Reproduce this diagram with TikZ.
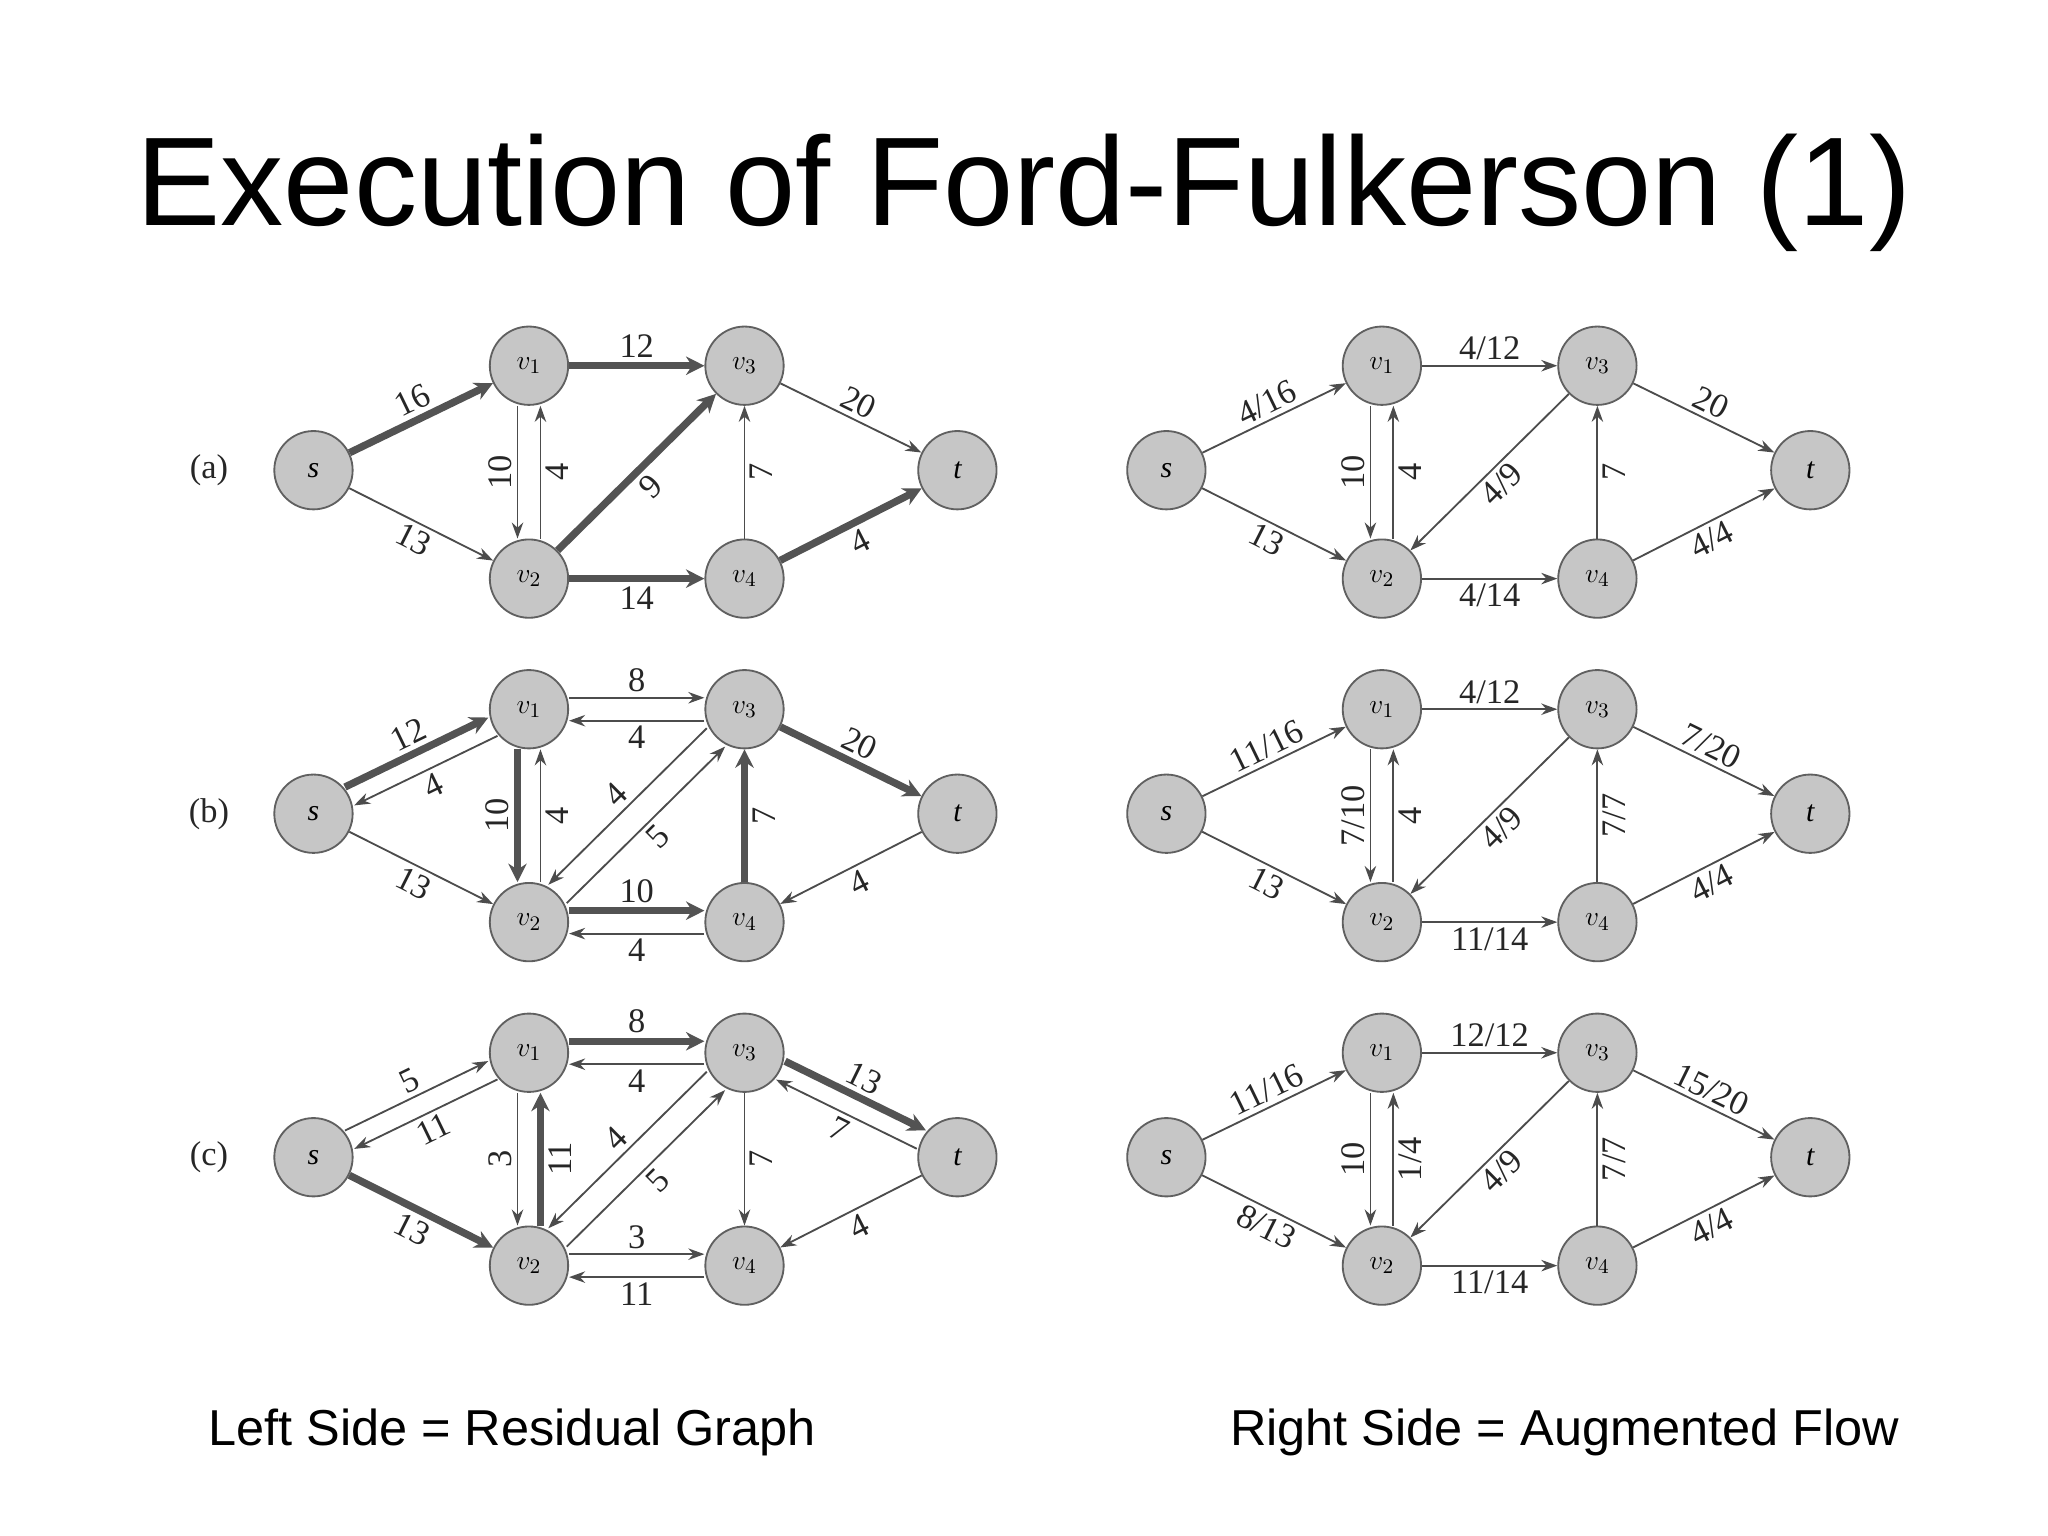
\documentclass[tikz,border=0pt]{standalone}
\usepackage{fontspec}
\setmainfont{Liberation Serif}
\newfontfamily\sansf{Liberation Sans}
\usetikzlibrary{arrows.meta}
\tikzset{
 gn/.style={circle,fill=gray!45,draw=gray!75!black,line width=0.8pt,minimum size=1.2cm,inner sep=0pt,font=\fontsize{13}{13}\selectfont\itshape},
 e/.style={draw=gray!60!black,line width=0.8pt,-{Stealth[length=7pt,width=5pt]}},
 hl/.style={draw=gray!65!black,line width=3.2pt,-{Stealth[length=8pt,width=8pt]}},
 lab/.style={font=\fontsize{15}{15}\selectfont,inner sep=2pt,text=gray!30!black},
}
\newcommand\gnodes[3]{%
 \node[gn] (#1s) at (#2+240,#3+360) {s};
 \node[gn] (#1a) at (#2+405,#3+280) {$v_1$};
 \node[gn] (#1c) at (#2+570,#3+280) {$v_3$};
 \node[gn] (#1t) at (#2+733,#3+360) {t};
 \node[gn] (#1b) at (#2+405,#3+443) {$v_2$};
 \node[gn] (#1d) at (#2+570,#3+443) {$v_4$};}
\begin{document}
\begin{tikzpicture}[x=0.02cm,y=-0.02cm]
\useasboundingbox (0,0) rectangle (1568,1176);
\node[font=\sansf\fontsize{55}{55}\selectfont] (title) at (784,148) {Execution of Ford-Fulkerson (1)};
\node[font=\sansf\fontsize{22}{22}\selectfont] (ll) at (392,1097) {Left Side = Residual Graph};
\node[font=\sansf\fontsize{22}{22}\selectfont] (rl) at (1198,1097) {Right Side = Augmented Flow};
\node[lab] (la) at (160,360) {(a)};
\node[lab] (lb) at (160,623) {(b)};
\node[lab] (lc) at (160,886) {(c)};
\gnodes{A}{0}{0}
\gnodes{B}{0}{263}
\gnodes{C}{0}{526}
\gnodes{D}{653}{0}
\gnodes{E}{653}{263}
\gnodes{F}{653}{526}
% (a) left
\draw[hl] (As) -- node[lab,above,sloped]{16} (Aa);
\draw[e] (As) -- node[lab,below,sloped]{13} (Ab);
\draw[e,transform canvas={xshift=-5pt}] (Aa) -- node[lab,rotate=90,anchor=south]{10} (Ab);
\draw[e,transform canvas={xshift=5pt}] (Ab) -- node[lab,rotate=90,anchor=north]{4} (Aa);
\draw[hl] (Aa) -- node[lab,above]{12} (Ac);
\draw[hl] (Ab) -- node[lab,sloped,anchor=north]{9} (Ac);
\draw[e] (Ac) -- node[lab,above,sloped]{20} (At);
\draw[e] (Ad) -- node[lab,rotate=90,anchor=north]{7} (Ac);
\draw[hl] (Ab) -- node[lab,below]{14} (Ad);
\draw[hl] (Ad) -- node[lab,below,sloped]{4} (At);
% (b) left
\draw[hl,transform canvas={shift={(-2pt,4pt)}}] (Bs) -- node[lab,above,sloped]{12} (Ba);
\draw[e,transform canvas={shift={(2pt,-4pt)}}] (Ba) -- node[lab,below,sloped]{4} (Bs);
\draw[e] (Bs) -- node[lab,below,sloped]{13} (Bb);
\draw[hl,transform canvas={xshift=-5pt}] (Ba) -- node[lab,rotate=90,anchor=south]{10} (Bb);
\draw[e,transform canvas={xshift=5pt}] (Bb) -- node[lab,rotate=90,anchor=north]{4} (Ba);
\draw[e,transform canvas={yshift=5pt}] (Ba) -- node[lab,above]{8} (Bc);
\draw[e,transform canvas={yshift=-5pt}] (Bc) -- node[lab,below]{4} (Ba);
\draw[e,transform canvas={shift={(-4pt,4pt)}}] (Bc) -- node[lab,above,sloped]{4} (Bb);
\draw[e,transform canvas={shift={(4pt,-4pt)}}] (Bb) -- node[lab,below,sloped]{5} (Bc);
\draw[hl] (Bc) -- node[lab,above,sloped]{20} (Bt);
\draw[hl] (Bd) -- node[lab,rotate=90,anchor=north]{7} (Bc);
\draw[e] (Bt) -- node[lab,below,sloped]{4} (Bd);
\draw[hl,transform canvas={yshift=5pt}] (Bb) -- node[lab,above]{10} (Bd);
\draw[e,transform canvas={yshift=-5pt}] (Bd) -- node[lab,below]{4} (Bb);
% (c) left
\draw[e,transform canvas={shift={(-2pt,4pt)}}] (Cs) -- node[lab,above,sloped]{5} (Ca);
\draw[e,transform canvas={shift={(2pt,-4pt)}}] (Ca) -- node[lab,below,sloped]{11} (Cs);
\draw[hl] (Cs) -- node[lab,below,sloped]{13} (Cb);
\draw[e,transform canvas={xshift=-5pt}] (Ca) -- node[lab,rotate=90,anchor=south]{3} (Cb);
\draw[hl,transform canvas={xshift=5pt}] (Cb) -- node[lab,rotate=90,anchor=north]{11} (Ca);
\draw[hl,transform canvas={yshift=5pt}] (Ca) -- node[lab,above]{8} (Cc);
\draw[e,transform canvas={yshift=-5pt}] (Cc) -- node[lab,below]{4} (Ca);
\draw[e,transform canvas={shift={(4pt,-4pt)}}] (Cb) -- node[lab,below,sloped]{5} (Cc);
\draw[e,transform canvas={shift={(-4pt,4pt)}}] (Cc) -- node[lab,above,sloped]{4} (Cb);
\draw[hl,transform canvas={shift={(2pt,4pt)}}] (Cc) -- node[lab,above,sloped]{13} (Ct);
\draw[e,transform canvas={shift={(-2pt,-4pt)}}] (Ct) -- node[lab,below,sloped]{7} (Cc);
\draw[e] (Cc) -- node[lab,rotate=90,anchor=north]{7} (Cd);
\draw[e] (Ct) -- node[lab,below,sloped]{4} (Cd);
\draw[e,transform canvas={yshift=5pt}] (Cb) -- node[lab,above]{3} (Cd);
\draw[e,transform canvas={yshift=-5pt}] (Cd) -- node[lab,below]{11} (Cb);
% right graphs
\newcommand\rgraph[9]{%
\draw[e] (#1s) -- node[lab,above,sloped]{#2} (#1a);
\draw[e] (#1s) -- node[lab,below,sloped]{#3} (#1b);
\draw[e,transform canvas={xshift=-5pt}] (#1a) -- node[lab,rotate=90,anchor=south]{#4} (#1b);
\draw[e,transform canvas={xshift=5pt}] (#1b) -- node[lab,rotate=90,anchor=north]{#5} (#1a);
\draw[e] (#1a) -- node[lab,above]{#6} (#1c);
\draw[e] (#1c) -- node[lab,below,sloped]{4/9} (#1b);
\draw[e] (#1c) -- node[lab,above,sloped]{#7} (#1t);
\draw[e] (#1d) -- node[lab,rotate=90,anchor=north]{#8} (#1c);
\draw[e] (#1b) -- node[lab,below]{#9} (#1d);
\draw[e] (#1d) -- node[lab,below,sloped]{4/4} (#1t);}
\rgraph{D}{4/16}{13}{10}{4}{4/12}{20}{7}{4/14}
\rgraph{E}{11/16}{13}{7/10}{4}{4/12}{7/20}{7/7}{11/14}
\rgraph{F}{11/16}{8/13}{10}{1/4}{12/12}{15/20}{7/7}{11/14}
\end{tikzpicture}
\end{document}
